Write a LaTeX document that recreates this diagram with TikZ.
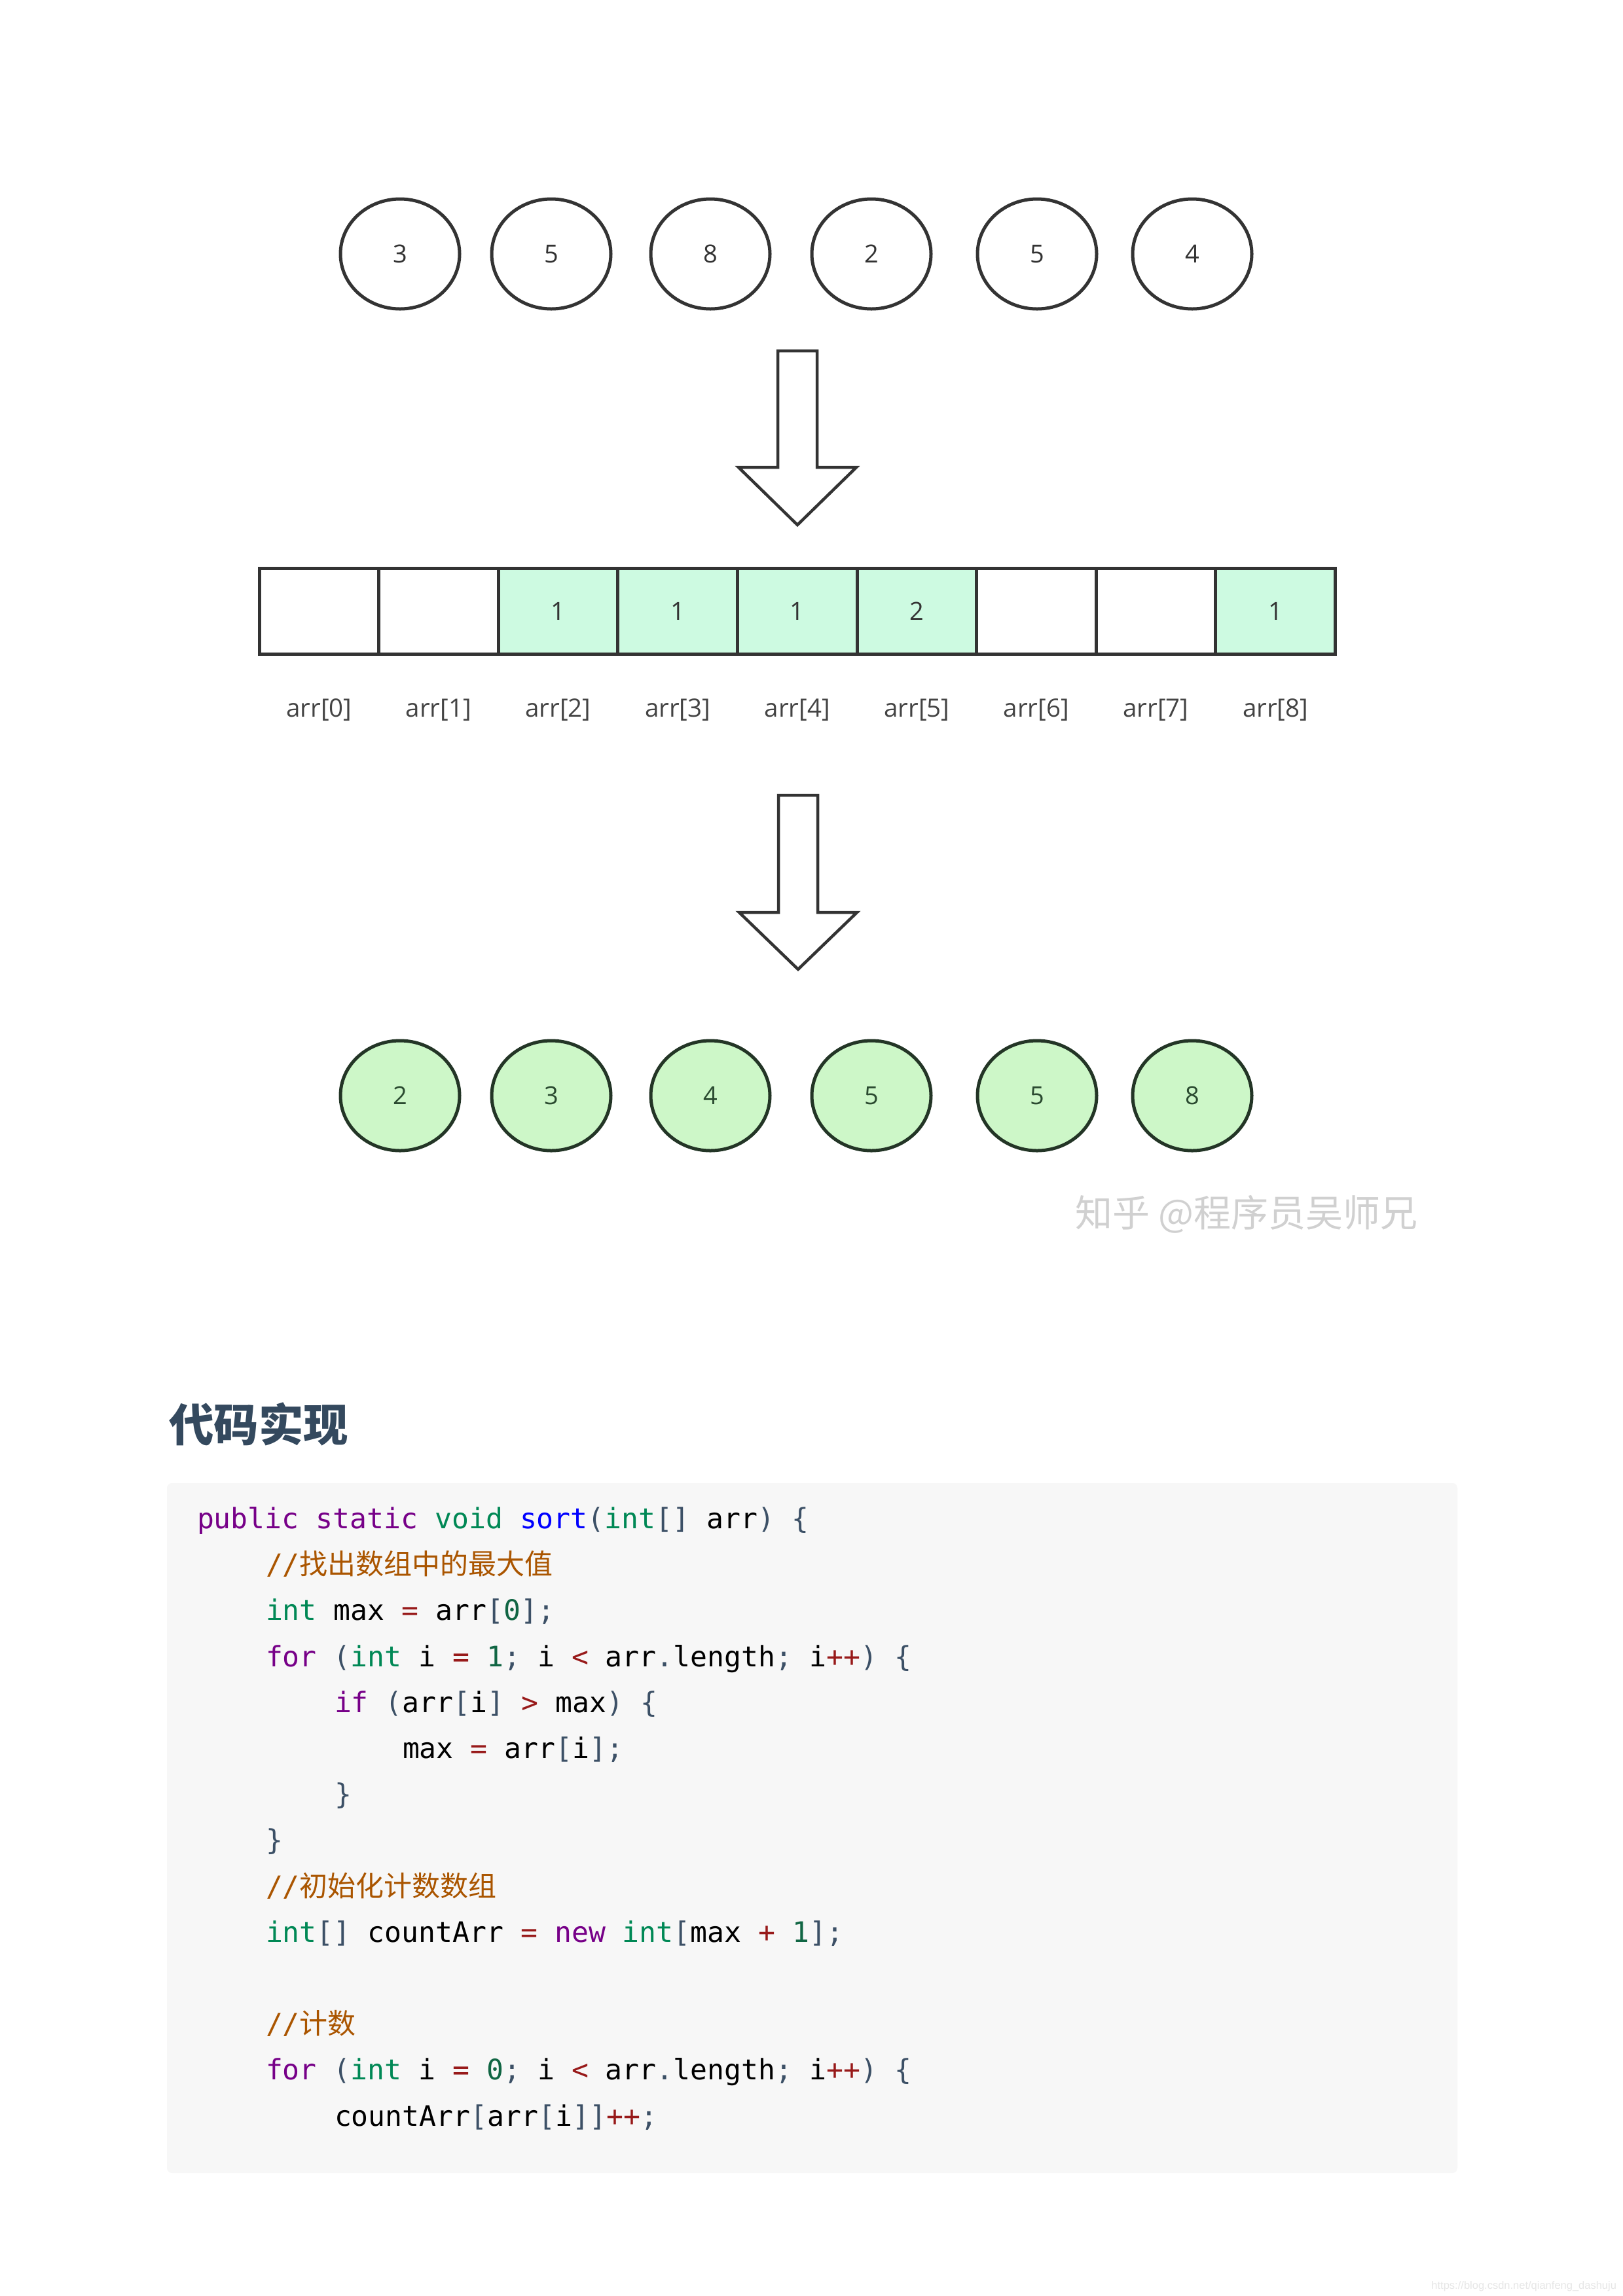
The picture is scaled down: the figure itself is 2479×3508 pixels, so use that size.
\documentclass[tikz,border=0pt]{standalone}
\usepackage{fontspec}
\setmainfont{Open Sans}
\setmonofont{DejaVu Sans Mono}
\newfontfamily\cjk{Noto Sans CJK SC}
\newfontfamily\wmfont{Liberation Sans}
\usetikzlibrary{shapes.geometric}
\definecolor{stroke}{HTML}{333333}
\definecolor{numtxt}{HTML}{333333}
\definecolor{labelgray}{HTML}{444444}
\definecolor{mint}{HTML}{CDFAE1}
\definecolor{greenfill}{HTML}{CDF7C8}
\definecolor{darkgreen}{HTML}{233526}
\definecolor{greentxt}{HTML}{2A4A30}
\definecolor{headc}{HTML}{34495E}
\definecolor{codebg}{HTML}{F7F7F7}
\definecolor{kwc}{HTML}{770088}
\definecolor{tyc}{HTML}{008855}
\definecolor{numc}{HTML}{116644}
\definecolor{opc}{HTML}{981A1A}
\definecolor{puc}{HTML}{3C5066}
\definecolor{cmc}{HTML}{AA5500}
\definecolor{dfc}{HTML}{0000FF}
\definecolor{wmc}{HTML}{D0D0D0}
\definecolor{urlc}{HTML}{E6E6E6}
\newcommand\ckw[1]{\textcolor{kwc}{#1}}
\newcommand\cty[1]{\textcolor{tyc}{#1}}
\newcommand\cnum[1]{\textcolor{numc}{#1}}
\newcommand\cop[1]{\textcolor{opc}{#1}}
\newcommand\cpu[1]{\textcolor{puc}{#1}}
\newcommand\ccm[1]{\textcolor{cmc}{//{\cjk\fontsize{8.6}{10}\selectfont #1}}}
\newcommand\cdf[1]{\textcolor{dfc}{#1}}
\begin{document}
\begin{tikzpicture}[x=0.2pt,y=-0.2pt,
  circ/.style={ellipse, draw=stroke, line width=1pt, minimum width=36.4pt,
    minimum height=33.6pt, inner sep=0pt, text=numtxt,
    font=\fontsize{7.6}{9}\selectfont},
  topcirc/.style={circ, fill=white},
  botcirc/.style={circ, fill=greenfill, draw=darkgreen, text=greentxt},
  cellbox/.style={rectangle, draw=stroke, line width=1pt, minimum width=36.52pt,
    minimum height=26.2pt, inner sep=0pt, text=numtxt,
    font=\fontsize{7.6}{9}\selectfont},
  emptycell/.style={cellbox, fill=white},
  fullcell/.style={cellbox, fill=mint},
  idx/.style={inner sep=0pt, text=labelgray, font=\fontsize{7.7}{9}\selectfont},
  blockarrow/.style={draw=stroke, line width=0.9pt, fill=white, line join=miter},
  codeln/.style={anchor=base west, inner sep=0pt, text=black,
    font=\ttfamily\fontsize{8.62}{10}\selectfont},
  heading/.style={anchor=west, inner sep=0pt, text=headc,
    font=\cjk\bfseries\fontsize{13.7}{16}\selectfont},
  wmark/.style={inner sep=0pt, text=wmc, font=\cjk\fontsize{11.4}{13}\selectfont},
  urlmark/.style={anchor=base east, inner sep=0pt, text=urlc,
    font=\wmfont\fontsize{3.3}{4}\selectfont}]
\useasboundingbox (0,0) rectangle (2479,3508);
\fill[white] (0,0) rectangle (2479,3508);

% top circles
\foreach \x/\v [count=\i] in {611/3, 842/5, 1085/8, 1331/2, 1584/5, 1821/4}
  \node[topcirc] (t\i) at (\x,388) {\v};

% arrow 1
\coordinate (ar1) at (1188,536);
\draw[blockarrow] (ar1) -- ++(60,0) -- ++(0,178) -- ++(60,0) -- ++(-90,88)
  -- ++(-90,-88) -- ++(60,0) -- cycle;

% counting array
\foreach \i/\v/\s in {0/{}/emptycell, 1/{}/emptycell, 2/1/fullcell, 3/1/fullcell,
    4/1/fullcell, 5/2/fullcell, 6/{}/emptycell, 7/{}/emptycell, 8/1/fullcell}{
  \node[\s] (c\i) at ({487.3+\i*182.6},933.5) {\v};
  \node[idx] (a\i) at ({487.3+\i*182.6},1085) {arr[\i]};
}

% arrow 2
\coordinate (ar2) at (1189,1215);
\draw[blockarrow] (ar2) -- ++(60,0) -- ++(0,179) -- ++(60,0) -- ++(-90,87)
  -- ++(-90,-87) -- ++(60,0) -- cycle;

% sorted circles
\foreach \x/\v [count=\i] in {611/2, 842/3, 1085/4, 1331/5, 1584/5, 1821/8}
  \node[botcirc] (b\i) at (\x,1674) {\v};

% watermark
\node[wmark] (wm) at (1904,1855) {知乎 @程序员吴师兄};

% heading
\node[heading] (head) at (257,2176) {代码实现};

% code block
\fill[codebg, rounded corners=1.5pt] (255,2266) rectangle (2226,3320);

\node[codeln] (l0) at (300,2335) {\ckw{public} \ckw{static} \cty{void} \cdf{sort}\cpu{(}\cty{int}\cpu{[]} arr\cpu{)} \cpu{\{}};
\node[codeln] (l1) at (405,2405) {\ccm{找出数组中的最大值}};
\node[codeln] (l2) at (405,2475) {\cty{int} max \cop{=} arr\cpu{[}\cnum{0}\cpu{]}\cpu{;}};
\node[codeln] (l3) at (405,2546) {\ckw{for} \cpu{(}\cty{int} i \cop{=} \cnum{1}\cpu{;} i \cop{<} arr\cpu{.}length\cpu{;} i\cop{++}\cpu{)} \cpu{\{}};
\node[codeln] (l4) at (510,2616) {\ckw{if} \cpu{(}arr\cpu{[}i\cpu{]} \cop{>} max\cpu{)} \cpu{\{}};
\node[codeln] (l5) at (614,2686) {max \cop{=} arr\cpu{[}i\cpu{]}\cpu{;}};
\node[codeln] (l6) at (510,2756) {\cpu{\}}};
\node[codeln] (l7) at (405,2826) {\cpu{\}}};
\node[codeln] (l8) at (405,2897) {\ccm{初始化计数数组}};
\node[codeln] (l9) at (405,2967) {\cty{int}\cpu{[]} countArr \cop{=} \ckw{new} \cty{int}\cpu{[}max \cop{+} \cnum{1}\cpu{]}\cpu{;}};
\node[codeln] (l11) at (405,3107) {\ccm{计数}};
\node[codeln] (l12) at (405,3177) {\ckw{for} \cpu{(}\cty{int} i \cop{=} \cnum{0}\cpu{;} i \cop{<} arr\cpu{.}length\cpu{;} i\cop{++}\cpu{)} \cpu{\{}};
\node[codeln] (l13) at (510,3248) {countArr\cpu{[}arr\cpu{[}i\cpu{]]}\cop{++}\cpu{;}};

% url watermark
\node[urlmark] (url) at (2470,3497) {https://blog.csdn.net/qianfeng\_dashuju};
\end{tikzpicture}
\end{document}
